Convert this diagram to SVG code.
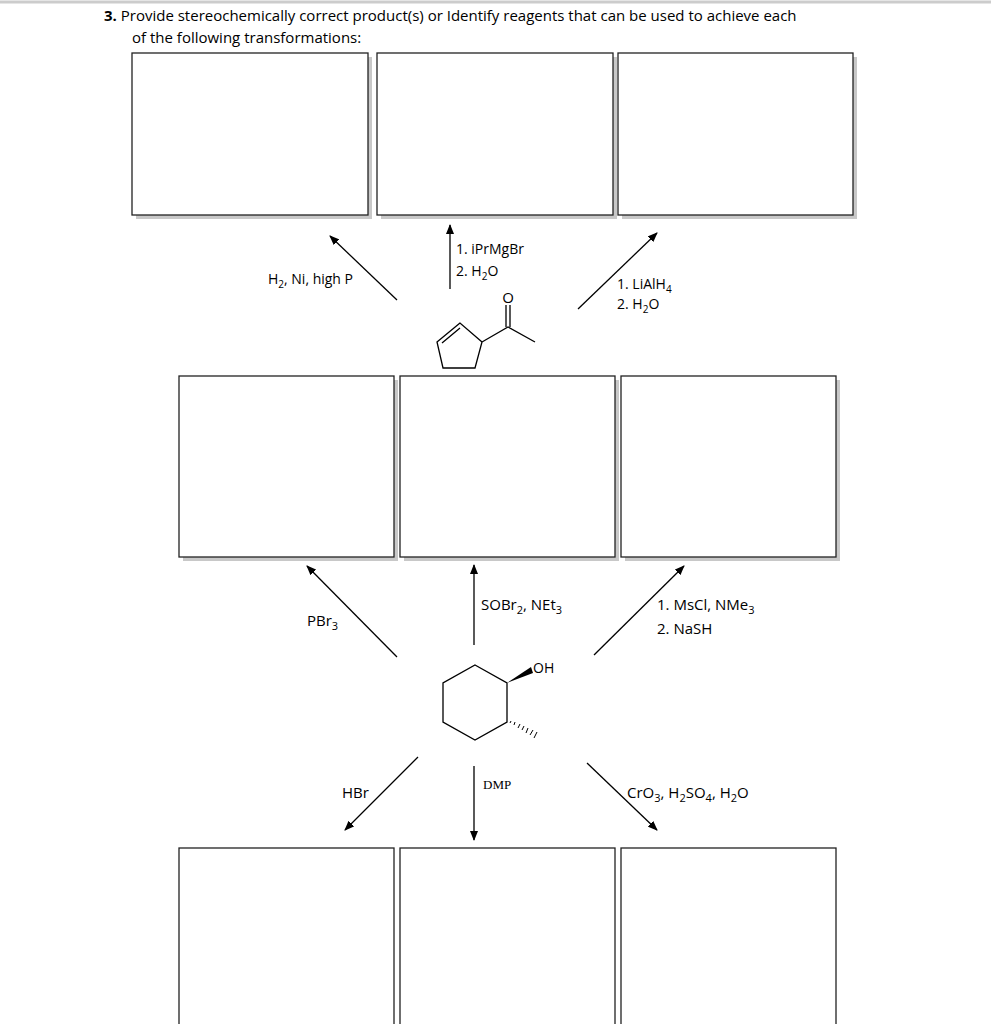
<svg xmlns="http://www.w3.org/2000/svg" width="991" height="1024" viewBox="0 0 991 1024">
<style>
.t{font-family:"Open Sans","Liberation Sans",sans-serif;font-size:15px;fill:#000}
.s{font-family:"Open Sans","Liberation Sans",sans-serif;font-size:14px;fill:#000}
.sh{fill:#c8c8c8}
.bx{fill:#fff;stroke:#222;stroke-width:1.3}
.ln{stroke:#000;stroke-width:1.3;fill:none}
</style>
<defs><marker id="a" markerWidth="10" markerHeight="8" refX="9" refY="4" orient="auto" markerUnits="userSpaceOnUse"><path d="M0,0 L10,4 L0,8 Z" fill="#000"/></marker></defs>
<rect width="991" height="1024" fill="#fff"/>
<line x1="0" y1="2" x2="991" y2="2" stroke="#ccc" stroke-width="3"/>
<text class="t" x="104" y="21"><tspan font-weight="bold">3.</tspan> Provide stereochemically correct product(s) or Identify reagents that can be used to achieve each</text>
<text class="t" x="132" y="43">of the following transformations:</text>
<g id="boxes">
<g id="b1"><rect class="sh" x="136" y="57" width="236" height="162"/><rect class="bx" x="132" y="53" width="236" height="162"/></g>
<g id="b2"><rect class="sh" x="381" y="57" width="236" height="162"/><rect class="bx" x="377" y="53" width="236" height="162"/></g>
<g id="b3"><rect class="sh" x="622" y="57" width="235" height="162"/><rect class="bx" x="618" y="53" width="235" height="162"/></g>
<g id="b4"><rect class="sh" x="183" y="380" width="215" height="181"/><rect class="bx" x="179" y="376" width="215" height="181"/></g>
<g id="b5"><rect class="sh" x="404" y="380" width="215" height="181"/><rect class="bx" x="400" y="376" width="215" height="181"/></g>
<g id="b6"><rect class="sh" x="625" y="380" width="215" height="181"/><rect class="bx" x="621" y="376" width="215" height="181"/></g>
<g id="b7"><rect class="bx" x="179" y="848" width="215" height="190"/></g>
<g id="b8"><rect class="bx" x="400" y="848" width="215" height="190"/></g>
<g id="b9"><rect class="bx" x="621" y="848" width="215" height="190"/></g>
</g>
<g id="connectors">
<line class="ln" x1="397" y1="300" x2="330" y2="236" marker-end="url(#a)"/>
<line class="ln" x1="450" y1="289" x2="450" y2="225" marker-end="url(#a)"/>
<line class="ln" x1="578" y1="309" x2="657" y2="233" marker-end="url(#a)"/>
<line class="ln" x1="397" y1="657" x2="307" y2="566" marker-end="url(#a)"/>
<line class="ln" x1="474" y1="645" x2="474" y2="565" marker-end="url(#a)"/>
<line class="ln" x1="594" y1="655" x2="684" y2="566" marker-end="url(#a)"/>
<line class="ln" x1="418" y1="757" x2="345" y2="830" marker-end="url(#a)"/>
<line class="ln" x1="474" y1="766" x2="474" y2="840" marker-end="url(#a)"/>
<line class="ln" x1="587" y1="763" x2="657" y2="830" marker-end="url(#a)"/>
</g>
<g id="labels">
<text class="s" x="268" y="284">H<tspan font-size="10" dy="4">2</tspan><tspan dy="-4">, Ni, high P</tspan></text>
<text class="s" x="456" y="254">1. iPrMgBr</text>
<text class="s" x="456" y="276">2. H<tspan font-size="10" dy="4">2</tspan><tspan dy="-4">O</tspan></text>
<text class="s" x="617" y="289">1. LiAlH<tspan font-size="10" dy="4">4</tspan></text>
<text class="s" x="617" y="309">2. H<tspan font-size="10" dy="4">2</tspan><tspan dy="-4">O</tspan></text>
<text class="t" x="307" y="626">PBr<tspan font-size="11" dy="4">3</tspan></text>
<text class="t" x="481" y="610">SOBr<tspan font-size="11" dy="4">2</tspan><tspan dy="-4">, NEt</tspan><tspan font-size="11" dy="4">3</tspan></text>
<text class="t" x="657" y="610">1. MsCl, NMe<tspan font-size="11" dy="4">3</tspan></text>
<text class="t" x="657" y="634">2. NaSH</text>
<text class="t" x="342" y="798">HBr</text>
<text x="483" y="789" font-family="Liberation Serif,serif" font-size="13">DMP</text>
<text class="t" x="627" y="798">CrO<tspan font-size="11" dy="4">3</tspan><tspan dy="-4">, H</tspan><tspan font-size="11" dy="4">2</tspan><tspan dy="-4">SO</tspan><tspan font-size="11" dy="4">4</tspan><tspan dy="-4">, H</tspan><tspan font-size="11" dy="4">2</tspan><tspan dy="-4">O</tspan></text>
</g>
<g id="ketone">
<path class="ln" d="M460,323 L437,342 L443,368 L475,368 L482,342 Z M482,342 L508,327 L535,342 M506,327 L506,305 M510,327 L510,305 M442,343 L460,328"/>
<text x="508" y="303" text-anchor="middle" font-family="Open Sans,Liberation Sans,sans-serif" font-size="15">O</text>
</g>
<g id="alcohol">
<path class="ln" d="M475,665 L507,683 L507,722 L475,740 L443,722 L443,683 Z"/>
<path d="M507,683 L531,667 L533,673 Z" fill="#000"/>
<text x="533" y="673" font-family="Open Sans,Liberation Sans,sans-serif" font-size="14">OH</text>
<path stroke="#000" stroke-width="1" d="M510,723 L511,721 M514,725 L515,722 M518,728 L520,724 M522,730 L524,726 M526,733 L528,728 M530,735 L533,730 M534,738 L537,732"/>
</g>
</svg>
